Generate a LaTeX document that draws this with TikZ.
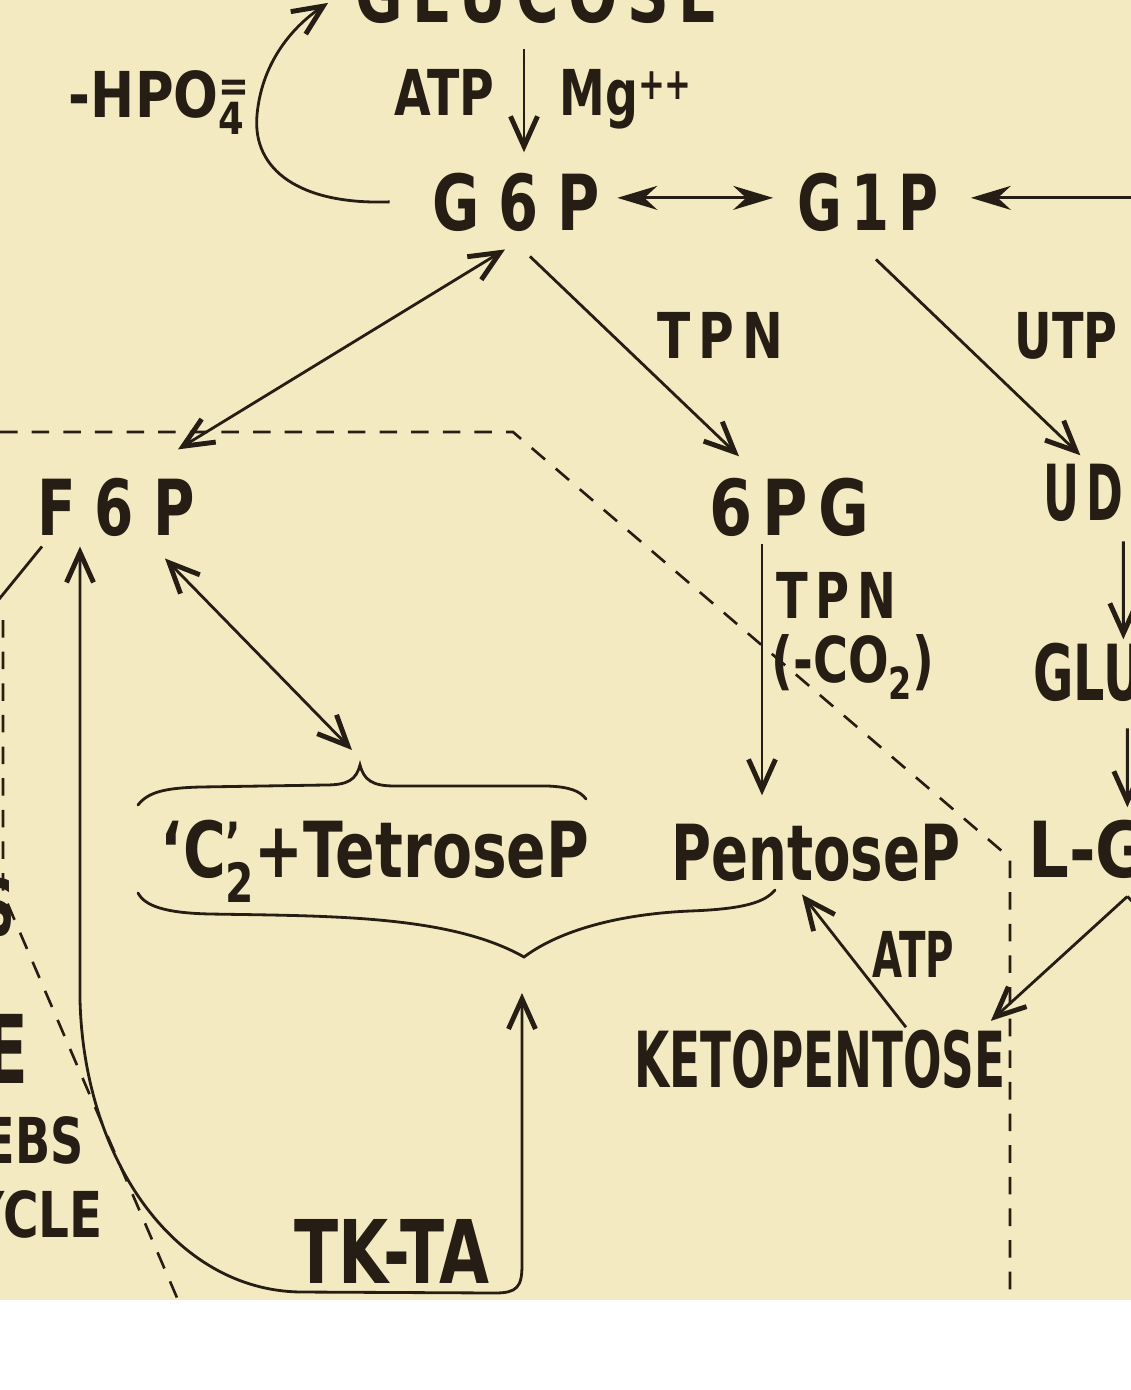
\documentclass[tikz,border=0pt]{standalone}
\usepackage{fontspec}
\setmainfont{DejaVu Sans}
\usepackage{graphicx}
\usetikzlibrary{arrows.meta, calc}
\definecolor{paper}{RGB}{244,234,194}
\definecolor{ink}{RGB}{38,30,20}
\newlength\pxu \setlength\pxu{0.02cm}
\newcommand{\fw}[2]{\resizebox{#1\pxu}{\height}{#2}}

\begin{document}
\begin{tikzpicture}[x=0.02cm, y=-0.02cm,
  met/.style={font=\fontsize{44}{44}\selectfont\bfseries, text=ink, inner sep=0pt, anchor=base},
  lab/.style={font=\fontsize{36}{36}\selectfont\bfseries, text=ink, inner sep=0pt, anchor=base},
  wire/.style={draw=ink, line width=1.6pt},
  >={Straight Barb[length=6mm,width=5.4mm,line width=2.8pt]},
  arr/.style={wire, ->},
  harr/.style={wire, {Stealth[length=8mm,width=4.8mm,inset=2.6mm]}-{Stealth[length=8mm,width=4.8mm,inset=2.6mm]}},
  cutline/.style={draw=ink, line width=1.5pt, dash pattern=on 10pt off 8pt},
  curly/.style={draw=ink, line width=1.6pt, line cap=round}
]
\fill[white] (0,0) rectangle (1131,1390);
\fill[paper] (0,0) rectangle (1131,1300);
\useasboundingbox (0,0) rectangle (1131,1390);

\begin{scope}
\clip (0,0) rectangle (1131,1300);

% top row
\node[met] (glucose) at (537,22) {\fw{363}{G\,L\,U\,C\,O\,S\,E}};
\node[lab] (hpo) at (157,117) {\fw{176}{-HPO\rlap{\textsuperscript{=}}\textsubscript{4}}};
\node[lab] (atpa) at (444,115) {\fw{100}{ATP}};
\node[lab] (mg) at (626,115) {\fw{133}{Mg\textsuperscript{++}}};
\node[met] (g6p) at (516,230) {\fw{168}{G\,\,6\,\,P}};
\node[met] (g1p) at (868,230) {\fw{141}{G\,1\,P}};
\node[lab] (tpna) at (720,358) {\fw{126}{T\,P\,N}};
\node[lab] (utp) at (1066,358) {\fw{103}{UTP}};

% middle row
\node[met] (f6p) at (116,535) {\fw{157}{F\,\,6\,\,P}};
\node[met] (pg6) at (789,535) {\fw{160}{6\,P\,G}};
\node[met, anchor=base west] (udp) at (1043,520) {\fw{120}{U\,D\,P}};
\node[lab] (tpnb) at (836,618) {\fw{120}{T\,P\,N}};
\node[lab] (co2) at (853,682) {\fw{163}{(-CO\textsubscript{2})}};
\node[met, anchor=base west] (glu) at (1033,700) {\fw{110}{GLU}};

% lower row
\node[met] (tetrose) at (375,877) {\fw{428}{‘C\rlap{\textsuperscript{’}}\textsubscript{2}+TetroseP}};
\node[met] (pentose) at (816,880) {\fw{289}{PentoseP}};
\node[met, anchor=base west] (lg) at (1028,877) {\fw{120}{L-G}};
\node[lab] (atpb) at (913,977) {\fw{82}{ATP}};
\node[met] (keto) at (820,1087) {\fw{371}{KETOPENTOSE}};
\node[met, font=\fontsize{50}{50}\selectfont\bfseries] (tkta) at (392,1283) {\fw{195}{TK-TA}};

% cut-off words on the left edge
\node[met, anchor=base east] (lefts) at (15,935) {\fw{30}{S}};
\node[met, font=\fontsize{54}{54}\selectfont\bfseries, anchor=base east] (lefte) at (29,1083) {\fw{45}{E}};
\node[lab, anchor=base east] (krebs) at (84,1163) {\fw{100}{EBS}};
\node[lab, anchor=base east] (cycle) at (103,1237) {\fw{133}{YCLE}};

% braces
\coordinate (tapex) at (360,765);
\coordinate (bapex) at (524,957);
\draw[curly] (138,805) .. controls (148,792) and (165,788) .. (200,787) -- (325,785)
  .. controls (348,785) and (356,780) .. (tapex) .. controls (364,780) and (372,786) .. (395,786)
  -- (548,786) .. controls (570,787) and (580,791) .. (586,799);
\draw[curly] (138,893) .. controls (145,906) and (165,913) .. (210,914)
  .. controls (330,916) and (450,915) .. (bapex) .. controls (560,930) and (620,914) .. (690,911)
  .. controls (745,909) and (765,902) .. (775,890);

% dashed boundaries
\draw[cutline] (0,432) -- (513,432) -- (1010,858) -- (1010,1300);
\draw[cutline] (3,620) -- (3,893) -- (178,1300);

% connectors
\draw[arr] ($(g6p.west)+(-42,0)$) .. controls (300,205) and (252,170) .. (257,115)
  .. controls (262,60) and (295,25) .. ($(glucose.west)+(-27,9)$);
\draw[arr] ($(glucose.south)+(-13,26)$) -- ($(g6p.north)+(8,-20)$);
\draw[harr] ($(g6p.east)+(17,-4)$) -- ($(g1p.west)+(-24,-4)$);
\draw[wire, {Stealth[length=8mm,width=4.8mm,inset=2.6mm]}-] ($(g1p.east)+(32,-4)$) -- +(200,0);
\draw[arr] ($(g6p.south)+(14,25)$) -- ($(pg6.north)+(-50,-21)$);
\draw[wire, <->] ($(g6p.south)+(-11,18)$) -- ($(f6p.north)+(62,-28)$);
\draw[arr] ($(g1p.south)+(8,28)$) -- ($(udp.north)+(-23,-8)$);
\draw[wire, <->] ($(f6p.south)+(49,22)$) -- ($(tapex)+(-8,-15)$);
\draw[wire] ($(f6p.south)+(-74,10)$) -- +(-57,70);
\draw[arr] ($(pg6.south)+(-27,8)$) -- ($(pentose.north)+(-54,-28)$);
\draw[arr] ($(udp.south)+(20,20)$) -- ($(glu.north)+(35,-3)$);
\draw[arr] ($(glu.south)+(39,27)$) -- ($(lg.north)+(39,-12)$);
\draw[arr] ($(lg.south)+(39,18)$) -- ($(keto.east)+(-15,-38)$);
\draw[wire] ($(lg.south)+(39,18)$) -- +(20,20);
\draw[arr] ($(keto.north)+(86,-2)$) -- ($(pentose.south)+(-14,13)$);
\draw[wire, <->] ($(f6p.south)+(-36,10)$) -- (80,1000) .. controls (84,1160) and (175,1290) .. (300,1292)
  -- (495,1293) .. controls (517,1293) and (522,1287) .. (522,1265) -- ($(bapex)+(-2,36)$);
\end{scope}
\end{tikzpicture}
\end{document}
